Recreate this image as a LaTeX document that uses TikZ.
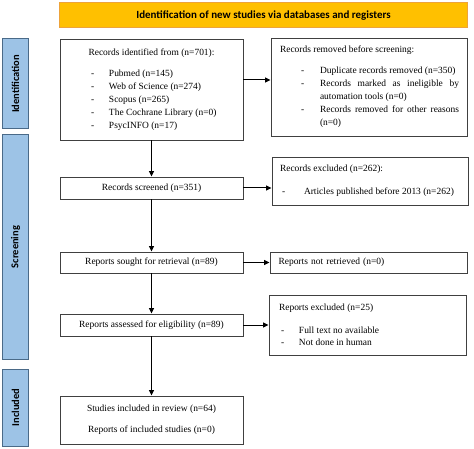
\documentclass[tikz,border=0pt]{standalone}
\usepackage{fontspec}
\setmainfont{Liberation Serif}
\newfontfamily\carlito{Carlito}
\usetikzlibrary{arrows.meta}
\definecolor{bannerfill}{HTML}{FFC000}
\definecolor{bannerdraw}{HTML}{EDA33A}
\definecolor{sidefill}{HTML}{9DC3E6}
\definecolor{sidedraw}{HTML}{4A6A88}
\definecolor{boxdraw}{HTML}{404040}
\tikzset{
  box/.style={draw=boxdraw, line width=0.9bp, rectangle, inner sep=0pt,
    font=\fontsize{9.5}{13}\selectfont},
  sidebar/.style={draw=sidedraw, fill=sidefill, line width=1bp, rectangle,
    inner sep=0pt, minimum width=25bp},
  sidetext/.style={rotate=90, font=\carlito\bfseries\fontsize{10.5}{12}\selectfont},
  arr/.style={line width=1bp, -{Triangle[length=5.5bp,width=5bp]}},
}
\newcommand{\itmw}[2]{\noindent\llap{\makebox[#1][l]{-}}#2\par}
\begin{document}
\begin{tikzpicture}[x=1bp,y=-1bp]
\useasboundingbox (0,0) rectangle (474,449);
% banner
\node[draw=bannerdraw, fill=bannerfill, line width=1bp, minimum width=407bp,
  minimum height=25bp, inner sep=0pt, font=\carlito\bfseries\fontsize{11}{13}\selectfont]
  (banner) at (263.5,15.5) {Identification of new studies via databases and registers};
% side bars
\node[sidebar, minimum height=90bp] (sid) at (15.5,84) {};
\node[sidetext] at (sid.center) {Identification};
\node[sidebar, minimum height=224bp] (sscr) at (15.5,247) {};
\node[sidetext] at (sscr.center) {Screening};
\node[sidebar, minimum height=77bp] (sinc) at (15.5,407.5) {};
\node[sidetext] at (sinc.center) {Included};
% identification
\node[box, minimum width=183bp, minimum height=101bp] (ident) at (151.5,89.5) {%
  \begin{minipage}{183bp}\centering Records identified from (n=701):\par
  \vspace{8bp}\raggedright\leftskip=49bp
  \itmw{18bp}{Pubmed (n=145)}
  \itmw{18bp}{Web of Science (n=274)}
  \itmw{18bp}{Scopus (n=265)}
  \itmw{18bp}{The Cochrane Library (n=0)}
  \itmw{18bp}{PsycINFO (n=17)}
  \end{minipage}};
\node[box, minimum width=196bp, minimum height=98bp] (removed) at (369,87) {%
  \begin{minipage}{196bp}\tolerance=10000 \hyphenpenalty=10000 \exhyphenpenalty=10000
  \leftskip=9bp\noindent Records removed before screening:\par
  \vspace{8bp}\leftskip=49bp\rightskip=8bp
  \itmw{19bp}{Duplicate records removed (n=350)}
  \itmw{19bp}{Records marked as ineligible by automation tools (n=0)}
  \itmw{19bp}{Records removed for other reasons (n=0)}
  \end{minipage}};
% screening
\node[box, minimum width=183bp, minimum height=22bp] (screened) at (151.5,188) {Records screened (n=351)};
\node[box, minimum width=196bp, minimum height=48bp] (excl) at (370,181) {%
  \begin{minipage}{196bp}\leftskip=8bp\noindent Records excluded (n=262):\par
  \vspace{10bp}\leftskip=32bp
  \itmw{22bp}{Articles published before 2013 (n=262)}
  \end{minipage}};
\node[box, minimum width=183bp, minimum height=21bp] (sought) at (151.5,262.5) {Reports sought for retrieval (n=89)};
\node[box, minimum width=197bp, minimum height=21bp, text width=180bp, align=left] (notret) at (368.5,262.5) {Reports not retrieved (n=0)};
\node[box, minimum width=197bp, minimum height=60bp] (rexcl) at (367.5,325) {%
  \begin{minipage}{197bp}\leftskip=10bp\noindent Reports excluded (n=25)\par
  \vspace{10bp}\leftskip=30bp
  \itmw{18bp}{Full text no available}
  \vspace{-1bp}
  \itmw{18bp}{Not done in human}
  \end{minipage}};
\node[box, minimum width=183bp, minimum height=22bp] (assessed) at (151.5,325) {Reports assessed for eligibility (n=89)};
% included
\node[box, minimum width=183bp, minimum height=48bp, align=center] (studies) at (151.5,420) {%
  Studies included in review (n=64)\\[8bp] Reports of included studies (n=0)};
% connectors
\coordinate (ya) at (0,80);
\draw[arr] (ident.east |- ya) -- (removed.west |- ya);
\draw[arr] (ident.south) -- (screened.north);
\draw[arr] (screened.east) -- (excl.west |- screened.east);
\draw[arr] (screened.south) -- (sought.north);
\draw[arr] (sought.east) -- (notret.west);
\draw[arr] (sought.south) -- (assessed.north);
\draw[arr] (assessed.east) -- (rexcl.west |- assessed.east);
\draw[arr] (assessed.south) -- (studies.north);
\end{tikzpicture}
\end{document}
